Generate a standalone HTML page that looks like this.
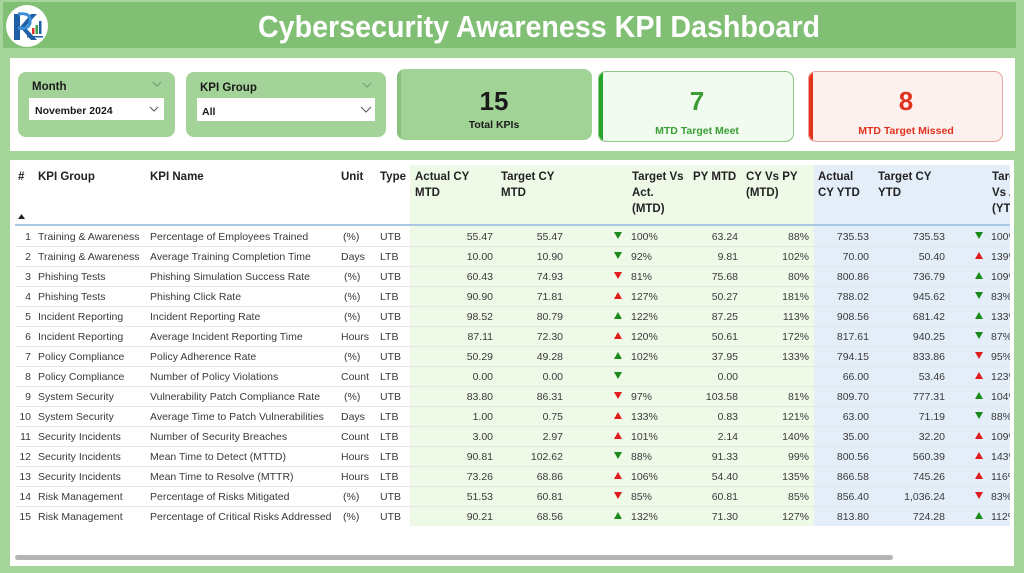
<!DOCTYPE html>
<html><head><meta charset="utf-8"><style>
html,body{margin:0;padding:0;background:#a5d59a;}
svg{display:block;}
text{font-family:"Liberation Sans",Arial,sans-serif;}
.r{font-size:10.5px;fill:#3a3a3a;}
.h{font-size:11.5px;font-weight:bold;fill:#222;}
</style></head><body>
<svg width="1024" height="573" viewBox="0 0 1024 573" xmlns="http://www.w3.org/2000/svg">
<defs>
<clipPath id="tc"><rect x="10" y="160" width="1000" height="406"/></clipPath>
<clipPath id="c1"><rect x="397" y="69" width="195" height="71" rx="8"/></clipPath>
<clipPath id="c2"><rect x="598" y="71" width="196" height="71" rx="8"/></clipPath>
<clipPath id="c3"><rect x="808" y="71" width="195" height="71" rx="8"/></clipPath>
</defs>
<rect x="0" y="0" width="1024" height="573" fill="#a5d59a"/>
<rect x="3" y="2" width="1013" height="46" fill="#80bf74"/>
<!-- logo -->
<circle cx="27" cy="26" r="21" fill="#fff"/>
<path d="M14 14 L20 14 L20 40 L14 40 Z" fill="#1e5fa8"/>
<path d="M20 27 L31 14 L37 14 L25 27 L37 40 L31 40 Z" fill="#1e5fa8"/>
<path d="M18 14 Q32 12 30 23 Q28 30 18 28" fill="none" stroke="#3a8fd6" stroke-width="3"/>
<rect x="32" y="28" width="2.5" height="6" fill="#e0302a"/>
<rect x="35.5" y="25" width="2.5" height="9" fill="#3aa34a"/>
<rect x="39" y="21" width="2.5" height="13" fill="#1e5fa8"/>
<rect x="27" y="36" width="16" height="1.5" fill="#1e5fa8"/>
<text x="539" y="37" text-anchor="middle" font-size="31" font-weight="bold" fill="#fff" textLength="562" lengthAdjust="spacingAndGlyphs">Cybersecurity Awareness KPI Dashboard</text>

<!-- slicer panel -->
<rect x="10" y="58" width="1005" height="93" fill="#fff"/>
<rect x="18" y="72" width="157" height="65" rx="8" fill="#a3d398"/>
<text x="32" y="90" font-size="11.5" font-weight="bold" fill="#1a1a1a">Month</text>
<polyline points="153,82 157,86 161,82" fill="none" stroke="#6f9d68" stroke-width="1"/>
<rect x="29" y="98" width="135" height="22" fill="#fff"/>
<text x="35" y="114" font-size="10.5" font-weight="bold" fill="#1a1a1a">November 2024</text>
<polyline points="150,107 154,111 158,107" fill="none" stroke="#555" stroke-width="1"/>

<rect x="186" y="72" width="200" height="65" rx="8" fill="#a3d398"/>
<text x="200" y="91" font-size="11.5" font-weight="bold" fill="#1a1a1a">KPI Group</text>
<polyline points="363,83 367,87 371,83" fill="none" stroke="#6f9d68" stroke-width="1"/>
<rect x="197" y="98" width="178" height="23" fill="#fff"/>
<text x="202" y="115" font-size="10.5" font-weight="bold" fill="#1a1a1a">All</text>
<polyline points="361,107 366,112 371,107" fill="none" stroke="#555" stroke-width="1"/>

<!-- cards -->
<g clip-path="url(#c1)">
<rect x="397" y="69" width="195" height="71" fill="#a2d396"/>
<rect x="397" y="69" width="4" height="71" fill="#88c27e"/>
</g>
<text x="494" y="110" text-anchor="middle" font-size="26" font-weight="bold" fill="#1a1a1a">15</text>
<text x="494" y="128" text-anchor="middle" font-size="10.5" font-weight="bold" fill="#1a1a1a">Total KPIs</text>

<g clip-path="url(#c2)">
<rect x="598" y="71" width="196" height="71" fill="#f1fbef"/>
<rect x="598" y="71" width="5" height="71" fill="#28a428"/>
</g>
<rect x="598.5" y="71.5" width="195" height="70" rx="8" fill="none" stroke="#8cc48a"/>
<text x="697" y="110" text-anchor="middle" font-size="26" font-weight="bold" fill="#3a9e35">7</text>
<text x="697" y="134" text-anchor="middle" font-size="10.5" font-weight="bold" fill="#3a9e35">MTD Target Meet</text>

<g clip-path="url(#c3)">
<rect x="808" y="71" width="195" height="71" fill="#fdf1f0"/>
<rect x="808" y="71" width="5" height="71" fill="#e5321c"/>
</g>
<rect x="808.5" y="71.5" width="194" height="70" rx="8" fill="none" stroke="#eaa49c"/>
<text x="906" y="110" text-anchor="middle" font-size="26" font-weight="bold" fill="#e0321e">8</text>
<text x="906" y="134" text-anchor="middle" font-size="10.5" font-weight="bold" fill="#e0321e">MTD Target Missed</text>

<!-- table panel -->
<rect x="10" y="160" width="1004" height="406" fill="#fff"/>
<g clip-path="url(#tc)">
<rect x="410" y="165" width="404" height="361" fill="#eff9e8"/>
<rect x="814" y="165" width="196" height="361" fill="#e4eef9"/>
<g stroke="#e6e6e6" stroke-width="1">
<line x1="15" y1="246.5" x2="1010" y2="246.5"/><line x1="15" y1="266.5" x2="1010" y2="266.5"/>
<line x1="15" y1="286.5" x2="1010" y2="286.5"/><line x1="15" y1="306.5" x2="1010" y2="306.5"/>
<line x1="15" y1="326.5" x2="1010" y2="326.5"/><line x1="15" y1="346.5" x2="1010" y2="346.5"/>
<line x1="15" y1="366.5" x2="1010" y2="366.5"/><line x1="15" y1="386.5" x2="1010" y2="386.5"/>
<line x1="15" y1="406.5" x2="1010" y2="406.5"/><line x1="15" y1="426.5" x2="1010" y2="426.5"/>
<line x1="15" y1="446.5" x2="1010" y2="446.5"/><line x1="15" y1="466.5" x2="1010" y2="466.5"/>
<line x1="15" y1="486.5" x2="1010" y2="486.5"/><line x1="15" y1="506.5" x2="1010" y2="506.5"/>
</g>
<line x1="15" y1="225" x2="1010" y2="225" stroke="#a9c8e4" stroke-width="2"/>
<!-- header -->
<text class="h" x="18" y="180">#</text>
<polygon points="18,219 25,219 21.5,214" fill="#222"/>
<text class="h" x="38" y="180">KPI Group</text>
<text class="h" x="150" y="180">KPI Name</text>
<text class="h" x="341" y="180">Unit</text>
<text class="h" x="380" y="180">Type</text>
<text class="h" x="415" y="180">Actual CY</text><text class="h" x="415" y="196">MTD</text>
<text class="h" x="501" y="180">Target CY</text><text class="h" x="501" y="196">MTD</text>
<text class="h" x="632" y="180">Target Vs</text><text class="h" x="632" y="196">Act.</text><text class="h" x="632" y="212">(MTD)</text>
<text class="h" x="693" y="180">PY MTD</text>
<text class="h" x="746" y="180">CY Vs PY</text><text class="h" x="746" y="196">(MTD)</text>
<text class="h" x="818" y="180">Actual</text><text class="h" x="818" y="196">CY YTD</text>
<text class="h" x="878" y="180">Target CY</text><text class="h" x="878" y="196">YTD</text>
<text class="h" x="992" y="180">Target</text><text class="h" x="992" y="196">Vs Act.</text><text class="h" x="992" y="212">(YTD)</text>

<!-- rows -->
<g>
<g transform="translate(0,0)">
<text class="r" x="31" y="240" text-anchor="end">1</text><text class="r" x="38" y="240">Training &amp; Awareness</text><text class="r" x="150" y="240">Percentage of Employees Trained</text><text class="r" x="343" y="240">(%)</text><text class="r" x="380" y="240">UTB</text>
<text class="r" x="493" y="240" text-anchor="end">55.47</text><text class="r" x="563" y="240" text-anchor="end">55.47</text><polygon points="614,232 622,232 618,239" fill="#1a8a1a"/><text class="r" x="631" y="240">100%</text><text class="r" x="738" y="240" text-anchor="end">63.24</text><text class="r" x="809" y="240" text-anchor="end">88%</text>
<text class="r" x="869" y="240" text-anchor="end">735.53</text><text class="r" x="945" y="240" text-anchor="end">735.53</text><polygon points="975,232 983,232 979,239" fill="#1a8a1a"/><text class="r" x="991" y="240">100%</text>
</g>
<g transform="translate(0,20)">
<text class="r" x="31" y="240" text-anchor="end">2</text><text class="r" x="38" y="240">Training &amp; Awareness</text><text class="r" x="150" y="240">Average Training Completion Time</text><text class="r" x="341" y="240">Days</text><text class="r" x="380" y="240">LTB</text>
<text class="r" x="493" y="240" text-anchor="end">10.00</text><text class="r" x="563" y="240" text-anchor="end">10.90</text><polygon points="614,232 622,232 618,239" fill="#1a8a1a"/><text class="r" x="631" y="240">92%</text><text class="r" x="738" y="240" text-anchor="end">9.81</text><text class="r" x="809" y="240" text-anchor="end">102%</text>
<text class="r" x="869" y="240" text-anchor="end">70.00</text><text class="r" x="945" y="240" text-anchor="end">50.40</text><polygon points="975,239 983,239 979,232" fill="#e01b1b"/><text class="r" x="991" y="240">139%</text>
</g>
<g transform="translate(0,40)">
<text class="r" x="31" y="240" text-anchor="end">3</text><text class="r" x="38" y="240">Phishing Tests</text><text class="r" x="150" y="240">Phishing Simulation Success Rate</text><text class="r" x="344" y="240">(%)</text><text class="r" x="380" y="240">UTB</text>
<text class="r" x="493" y="240" text-anchor="end">60.43</text><text class="r" x="563" y="240" text-anchor="end">74.93</text><polygon points="614,232 622,232 618,239" fill="#e01b1b"/><text class="r" x="631" y="240">81%</text><text class="r" x="738" y="240" text-anchor="end">75.68</text><text class="r" x="809" y="240" text-anchor="end">80%</text>
<text class="r" x="869" y="240" text-anchor="end">800.86</text><text class="r" x="945" y="240" text-anchor="end">736.79</text><polygon points="975,239 983,239 979,232" fill="#1a8a1a"/><text class="r" x="991" y="240">109%</text>
</g>
<g transform="translate(0,60)">
<text class="r" x="31" y="240" text-anchor="end">4</text><text class="r" x="38" y="240">Phishing Tests</text><text class="r" x="150" y="240">Phishing Click Rate</text><text class="r" x="344" y="240">(%)</text><text class="r" x="380" y="240">LTB</text>
<text class="r" x="493" y="240" text-anchor="end">90.90</text><text class="r" x="563" y="240" text-anchor="end">71.81</text><polygon points="614,239 622,239 618,232" fill="#e01b1b"/><text class="r" x="631" y="240">127%</text><text class="r" x="738" y="240" text-anchor="end">50.27</text><text class="r" x="809" y="240" text-anchor="end">181%</text>
<text class="r" x="869" y="240" text-anchor="end">788.02</text><text class="r" x="945" y="240" text-anchor="end">945.62</text><polygon points="975,232 983,232 979,239" fill="#1a8a1a"/><text class="r" x="991" y="240">83%</text>
</g>
<g transform="translate(0,80)">
<text class="r" x="31" y="240" text-anchor="end">5</text><text class="r" x="38" y="240">Incident Reporting</text><text class="r" x="150" y="240">Incident Reporting Rate</text><text class="r" x="344" y="240">(%)</text><text class="r" x="380" y="240">UTB</text>
<text class="r" x="493" y="240" text-anchor="end">98.52</text><text class="r" x="563" y="240" text-anchor="end">80.79</text><polygon points="614,239 622,239 618,232" fill="#1a8a1a"/><text class="r" x="631" y="240">122%</text><text class="r" x="738" y="240" text-anchor="end">87.25</text><text class="r" x="809" y="240" text-anchor="end">113%</text>
<text class="r" x="869" y="240" text-anchor="end">908.56</text><text class="r" x="945" y="240" text-anchor="end">681.42</text><polygon points="975,239 983,239 979,232" fill="#1a8a1a"/><text class="r" x="991" y="240">133%</text>
</g>
<g transform="translate(0,100)">
<text class="r" x="31" y="240" text-anchor="end">6</text><text class="r" x="38" y="240">Incident Reporting</text><text class="r" x="150" y="240">Average Incident Reporting Time</text><text class="r" x="341" y="240">Hours</text><text class="r" x="380" y="240">LTB</text>
<text class="r" x="493" y="240" text-anchor="end">87.11</text><text class="r" x="563" y="240" text-anchor="end">72.30</text><polygon points="614,239 622,239 618,232" fill="#e01b1b"/><text class="r" x="631" y="240">120%</text><text class="r" x="738" y="240" text-anchor="end">50.61</text><text class="r" x="809" y="240" text-anchor="end">172%</text>
<text class="r" x="869" y="240" text-anchor="end">817.61</text><text class="r" x="945" y="240" text-anchor="end">940.25</text><polygon points="975,232 983,232 979,239" fill="#1a8a1a"/><text class="r" x="991" y="240">87%</text>
</g>
<g transform="translate(0,120)">
<text class="r" x="31" y="240" text-anchor="end">7</text><text class="r" x="38" y="240">Policy Compliance</text><text class="r" x="150" y="240">Policy Adherence Rate</text><text class="r" x="344" y="240">(%)</text><text class="r" x="380" y="240">UTB</text>
<text class="r" x="493" y="240" text-anchor="end">50.29</text><text class="r" x="563" y="240" text-anchor="end">49.28</text><polygon points="614,239 622,239 618,232" fill="#1a8a1a"/><text class="r" x="631" y="240">102%</text><text class="r" x="738" y="240" text-anchor="end">37.95</text><text class="r" x="809" y="240" text-anchor="end">133%</text>
<text class="r" x="869" y="240" text-anchor="end">794.15</text><text class="r" x="945" y="240" text-anchor="end">833.86</text><polygon points="975,232 983,232 979,239" fill="#e01b1b"/><text class="r" x="991" y="240">95%</text>
</g>
<g transform="translate(0,140)">
<text class="r" x="31" y="240" text-anchor="end">8</text><text class="r" x="38" y="240">Policy Compliance</text><text class="r" x="150" y="240">Number of Policy Violations</text><text class="r" x="341" y="240">Count</text><text class="r" x="380" y="240">LTB</text>
<text class="r" x="493" y="240" text-anchor="end">0.00</text><text class="r" x="563" y="240" text-anchor="end">0.00</text><polygon points="614,232 622,232 618,239" fill="#1a8a1a"/><text class="r" x="738" y="240" text-anchor="end">0.00</text>
<text class="r" x="869" y="240" text-anchor="end">66.00</text><text class="r" x="945" y="240" text-anchor="end">53.46</text><polygon points="975,239 983,239 979,232" fill="#e01b1b"/><text class="r" x="991" y="240">123%</text>
</g>
<g transform="translate(0,160)">
<text class="r" x="31" y="240" text-anchor="end">9</text><text class="r" x="38" y="240">System Security</text><text class="r" x="150" y="240">Vulnerability Patch Compliance Rate</text><text class="r" x="344" y="240">(%)</text><text class="r" x="380" y="240">UTB</text>
<text class="r" x="493" y="240" text-anchor="end">83.80</text><text class="r" x="563" y="240" text-anchor="end">86.31</text><polygon points="614,232 622,232 618,239" fill="#e01b1b"/><text class="r" x="631" y="240">97%</text><text class="r" x="738" y="240" text-anchor="end">103.58</text><text class="r" x="809" y="240" text-anchor="end">81%</text>
<text class="r" x="869" y="240" text-anchor="end">809.70</text><text class="r" x="945" y="240" text-anchor="end">777.31</text><polygon points="975,239 983,239 979,232" fill="#1a8a1a"/><text class="r" x="991" y="240">104%</text>
</g>
<g transform="translate(0,180)">
<text class="r" x="31" y="240" text-anchor="end">10</text><text class="r" x="38" y="240">System Security</text><text class="r" x="150" y="240">Average Time to Patch Vulnerabilities</text><text class="r" x="341" y="240">Days</text><text class="r" x="380" y="240">LTB</text>
<text class="r" x="493" y="240" text-anchor="end">1.00</text><text class="r" x="563" y="240" text-anchor="end">0.75</text><polygon points="614,239 622,239 618,232" fill="#e01b1b"/><text class="r" x="631" y="240">133%</text><text class="r" x="738" y="240" text-anchor="end">0.83</text><text class="r" x="809" y="240" text-anchor="end">121%</text>
<text class="r" x="869" y="240" text-anchor="end">63.00</text><text class="r" x="945" y="240" text-anchor="end">71.19</text><polygon points="975,232 983,232 979,239" fill="#1a8a1a"/><text class="r" x="991" y="240">88%</text>
</g>
<g transform="translate(0,200)">
<text class="r" x="31" y="240" text-anchor="end">11</text><text class="r" x="38" y="240">Security Incidents</text><text class="r" x="150" y="240">Number of Security Breaches</text><text class="r" x="341" y="240">Count</text><text class="r" x="380" y="240">LTB</text>
<text class="r" x="493" y="240" text-anchor="end">3.00</text><text class="r" x="563" y="240" text-anchor="end">2.97</text><polygon points="614,239 622,239 618,232" fill="#e01b1b"/><text class="r" x="631" y="240">101%</text><text class="r" x="738" y="240" text-anchor="end">2.14</text><text class="r" x="809" y="240" text-anchor="end">140%</text>
<text class="r" x="869" y="240" text-anchor="end">35.00</text><text class="r" x="945" y="240" text-anchor="end">32.20</text><polygon points="975,239 983,239 979,232" fill="#e01b1b"/><text class="r" x="991" y="240">109%</text>
</g>
<g transform="translate(0,220)">
<text class="r" x="31" y="240" text-anchor="end">12</text><text class="r" x="38" y="240">Security Incidents</text><text class="r" x="150" y="240">Mean Time to Detect (MTTD)</text><text class="r" x="341" y="240">Hours</text><text class="r" x="380" y="240">LTB</text>
<text class="r" x="493" y="240" text-anchor="end">90.81</text><text class="r" x="563" y="240" text-anchor="end">102.62</text><polygon points="614,232 622,232 618,239" fill="#1a8a1a"/><text class="r" x="631" y="240">88%</text><text class="r" x="738" y="240" text-anchor="end">91.33</text><text class="r" x="809" y="240" text-anchor="end">99%</text>
<text class="r" x="869" y="240" text-anchor="end">800.56</text><text class="r" x="945" y="240" text-anchor="end">560.39</text><polygon points="975,239 983,239 979,232" fill="#e01b1b"/><text class="r" x="991" y="240">143%</text>
</g>
<g transform="translate(0,240)">
<text class="r" x="31" y="240" text-anchor="end">13</text><text class="r" x="38" y="240">Security Incidents</text><text class="r" x="150" y="240">Mean Time to Resolve (MTTR)</text><text class="r" x="341" y="240">Hours</text><text class="r" x="380" y="240">LTB</text>
<text class="r" x="493" y="240" text-anchor="end">73.26</text><text class="r" x="563" y="240" text-anchor="end">68.86</text><polygon points="614,239 622,239 618,232" fill="#e01b1b"/><text class="r" x="631" y="240">106%</text><text class="r" x="738" y="240" text-anchor="end">54.40</text><text class="r" x="809" y="240" text-anchor="end">135%</text>
<text class="r" x="869" y="240" text-anchor="end">866.58</text><text class="r" x="945" y="240" text-anchor="end">745.26</text><polygon points="975,239 983,239 979,232" fill="#e01b1b"/><text class="r" x="991" y="240">116%</text>
</g>
<g transform="translate(0,260)">
<text class="r" x="31" y="240" text-anchor="end">14</text><text class="r" x="38" y="240">Risk Management</text><text class="r" x="150" y="240">Percentage of Risks Mitigated</text><text class="r" x="343" y="240">(%)</text><text class="r" x="380" y="240">UTB</text>
<text class="r" x="493" y="240" text-anchor="end">51.53</text><text class="r" x="563" y="240" text-anchor="end">60.81</text><polygon points="614,232 622,232 618,239" fill="#e01b1b"/><text class="r" x="631" y="240">85%</text><text class="r" x="738" y="240" text-anchor="end">60.81</text><text class="r" x="809" y="240" text-anchor="end">85%</text>
<text class="r" x="869" y="240" text-anchor="end">856.40</text><text class="r" x="945" y="240" text-anchor="end">1,036.24</text><polygon points="975,232 983,232 979,239" fill="#e01b1b"/><text class="r" x="991" y="240">83%</text>
</g>
<g transform="translate(0,280)">
<text class="r" x="31" y="240" text-anchor="end">15</text><text class="r" x="38" y="240">Risk Management</text><text class="r" x="150" y="240">Percentage of Critical Risks Addressed</text><text class="r" x="343" y="240">(%)</text><text class="r" x="380" y="240">UTB</text>
<text class="r" x="493" y="240" text-anchor="end">90.21</text><text class="r" x="563" y="240" text-anchor="end">68.56</text><polygon points="614,239 622,239 618,232" fill="#1a8a1a"/><text class="r" x="631" y="240">132%</text><text class="r" x="738" y="240" text-anchor="end">71.30</text><text class="r" x="809" y="240" text-anchor="end">127%</text>
<text class="r" x="869" y="240" text-anchor="end">813.80</text><text class="r" x="945" y="240" text-anchor="end">724.28</text><polygon points="975,239 983,239 979,232" fill="#1a8a1a"/><text class="r" x="991" y="240">112%</text>
</g>
</g>
</g>
<!-- scrollbar -->
<rect x="15" y="555" width="878" height="5" rx="2.5" fill="#b5b5b5"/>
</svg>
</body></html>
